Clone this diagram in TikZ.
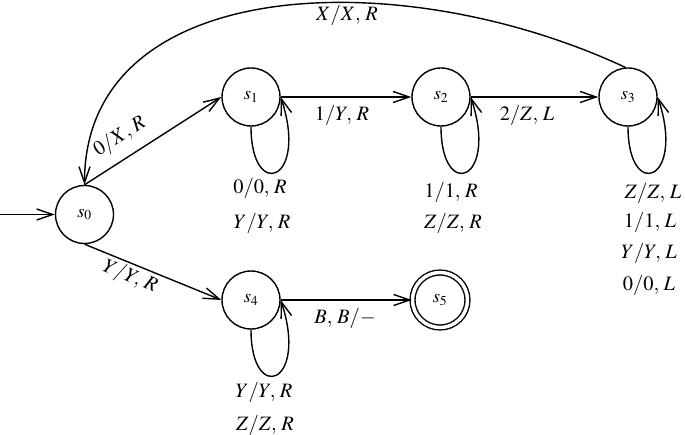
\documentclass[tikz,border=0pt]{standalone}
\usepackage{mathptmx}
\usetikzlibrary{arrows.meta}
\begin{document}
\begin{tikzpicture}[x=1bp,y=-1bp,
  state/.style={circle, draw, line width=1.4bp, minimum size=58bp, inner sep=0pt, font=\fontsize{18.5}{22}\selectfont},
  accept/.style={state, minimum size=55bp, double, double distance=3.5bp},
  edge/.style={line width=1.4bp, -{Straight Barb[length=16bp,width=11bp]}},
  lbl/.style={font=\fontsize{20.5}{24}\selectfont, inner sep=0pt},
]
\useasboundingbox (0,0) rectangle (685,435);

\node[state] (s0) at (84.5,214.5) {$s_0$};
\node[state] (s1) at (251,97) {$s_1$};
\node[state] (s2) at (441,97) {$s_2$};
\node[state] (s3) at (628,97) {$s_3$};
\node[state] (s4) at (251,300) {$s_4$};
\node[accept] (s5) at (440,300) {$s_5$};
\coordinate (start) at (0,214.5);

% edges
\draw[edge] (start) -- (s0.west);
\draw[edge] (s0.north) -- (s1.west);
\draw[edge] (s0.south) -- (s4.west);
\draw[edge] (s1.east) -- (s2.west);
\draw[edge] (s2.east) -- (s3.west);
\draw[edge] (s4.east) -- (s5.west);
\draw[edge] (s3.95) .. controls +(-226.5,-105.75) and +(0,-210) .. (s0.north);

% loops
\foreach \s in {s1,s2,s3,s4}
  \draw[edge] (\s.south) .. controls +(0,75) and +(28,85) .. (\s.east);

% labels
\node[lbl] (lXX) at (347,15) {$X/X,\,R$};
\node[lbl, rotate=32.7] (l0X) at (120,137) {$0/X,\,R$};
\node[lbl, rotate=-21.9] (lYY) at (130,277) {$Y/Y,\,R$};
\node[lbl] (l1Y) at (342,115) {$1/Y,\,R$};
\node[lbl] (l2Z) at (527,115) {$2/Z,\,L$};
\node[lbl] (lBB) at (345,318) {$B,\,B/-$};

\node[lbl] (a1) at (260,188) {$0/0,\,R$};
\node[lbl] (a2) at (262,223) {$Y/Y,\,R$};
\node[lbl] (b1) at (451,192) {$1/1,\,R$};
\node[lbl] (b2) at (453,223) {$Z/Z,\,R$};
\node[lbl] (c1) at (653,193) {$Z/Z,\,L$};
\node[lbl] (c2) at (650,222) {$1/1,\,L$};
\node[lbl] (c3) at (649,253) {$Y/Y,\,L$};
\node[lbl] (c4) at (649,285) {$0/0,\,L$};
\node[lbl] (d1) at (264,392) {$Y/Y,\,R$};
\node[lbl] (d2) at (265,425) {$Z/Z,\,R$};
\end{tikzpicture}
\end{document}
